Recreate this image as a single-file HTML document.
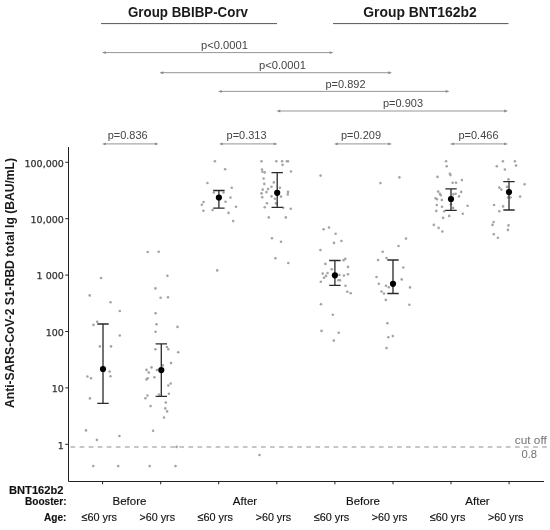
<!DOCTYPE html>
<html><head><meta charset="utf-8"><title>Figure</title>
<style>html,body{margin:0;padding:0;background:#fff}svg{display:block}</style></head>
<body>
<svg width="550" height="530" viewBox="0 0 550 530" font-family="'Liberation Sans', sans-serif">
<rect width="550" height="530" fill="#fff"/>
<text x="188" y="16.5" font-size="14.5" font-weight="bold" fill="#1a1a1a" text-anchor="middle" textLength="120" lengthAdjust="spacingAndGlyphs">Group BBIBP-Corv</text>
<text x="420" y="16.5" font-size="14.5" font-weight="bold" fill="#1a1a1a" text-anchor="middle" textLength="113.5" lengthAdjust="spacingAndGlyphs">Group BNT162b2</text>
<line x1="101" y1="23.6" x2="277" y2="23.6" stroke="#555" stroke-width="1"/>
<line x1="333" y1="23.6" x2="508.5" y2="23.6" stroke="#555" stroke-width="1"/>
<line x1="104" y1="52.6" x2="331.5" y2="52.6" stroke="#8a8a8a" stroke-width="0.9"/>
<path d="M102 52.6 l3.8 -1.45 v2.9 z M333.5 52.6 l-3.8 -1.45 v2.9 z" fill="#8a8a8a"/>
<text x="224.5" y="49.0" font-size="11" fill="#444" text-anchor="middle" textLength="47" lengthAdjust="spacingAndGlyphs">p&lt;0.0001</text>
<line x1="161.5" y1="72.7" x2="390" y2="72.7" stroke="#8a8a8a" stroke-width="0.9"/>
<path d="M159.5 72.7 l3.8 -1.45 v2.9 z M392 72.7 l-3.8 -1.45 v2.9 z" fill="#8a8a8a"/>
<text x="282.5" y="69.10000000000001" font-size="11" fill="#444" text-anchor="middle" textLength="47" lengthAdjust="spacingAndGlyphs">p&lt;0.0001</text>
<line x1="220" y1="91.4" x2="447.5" y2="91.4" stroke="#8a8a8a" stroke-width="0.9"/>
<path d="M218 91.4 l3.8 -1.45 v2.9 z M449.5 91.4 l-3.8 -1.45 v2.9 z" fill="#8a8a8a"/>
<text x="345.5" y="87.80000000000001" font-size="11" fill="#444" text-anchor="middle" textLength="40" lengthAdjust="spacingAndGlyphs">p=0.892</text>
<line x1="278.5" y1="111" x2="506" y2="111" stroke="#8a8a8a" stroke-width="0.9"/>
<path d="M276.5 111 l3.8 -1.45 v2.9 z M508 111 l-3.8 -1.45 v2.9 z" fill="#8a8a8a"/>
<text x="403" y="107.4" font-size="11" fill="#444" text-anchor="middle" textLength="40" lengthAdjust="spacingAndGlyphs">p=0.903</text>
<line x1="104" y1="143.9" x2="156.7" y2="143.9" stroke="#8a8a8a" stroke-width="0.9"/>
<path d="M102 143.9 l3.8 -1.45 v2.9 z M158.7 143.9 l-3.8 -1.45 v2.9 z" fill="#8a8a8a"/>
<text x="127.7" y="138.6" font-size="11" fill="#444" text-anchor="middle" textLength="40" lengthAdjust="spacingAndGlyphs">p=0.836</text>
<line x1="221" y1="143.9" x2="275.5" y2="143.9" stroke="#8a8a8a" stroke-width="0.9"/>
<path d="M219 143.9 l3.8 -1.45 v2.9 z M277.5 143.9 l-3.8 -1.45 v2.9 z" fill="#8a8a8a"/>
<text x="246.6" y="138.6" font-size="11" fill="#444" text-anchor="middle" textLength="40" lengthAdjust="spacingAndGlyphs">p=0.313</text>
<line x1="336" y1="143.9" x2="390" y2="143.9" stroke="#8a8a8a" stroke-width="0.9"/>
<path d="M334 143.9 l3.8 -1.45 v2.9 z M392 143.9 l-3.8 -1.45 v2.9 z" fill="#8a8a8a"/>
<text x="361" y="138.6" font-size="11" fill="#444" text-anchor="middle" textLength="40" lengthAdjust="spacingAndGlyphs">p=0.209</text>
<line x1="452" y1="143.9" x2="506" y2="143.9" stroke="#8a8a8a" stroke-width="0.9"/>
<path d="M450 143.9 l3.8 -1.45 v2.9 z M508 143.9 l-3.8 -1.45 v2.9 z" fill="#8a8a8a"/>
<text x="478.5" y="138.6" font-size="11" fill="#444" text-anchor="middle" textLength="40" lengthAdjust="spacingAndGlyphs">p=0.466</text>
<path d="M68.5 147 V481.5 H544" fill="none" stroke="#222" stroke-width="1"/>
<line x1="65.3" y1="162.3" x2="68" y2="162.3" stroke="#222" stroke-width="1"/>
<text x="63.8" y="166.5" stroke="#333" stroke-width="0.25" font-size="9.5" font-family="'DejaVu Sans', sans-serif" fill="#333" text-anchor="end">100,000</text>
<line x1="65.3" y1="218.7" x2="68" y2="218.7" stroke="#222" stroke-width="1"/>
<text x="63.8" y="222.89999999999998" stroke="#333" stroke-width="0.25" font-size="9.5" font-family="'DejaVu Sans', sans-serif" fill="#333" text-anchor="end">10,000</text>
<line x1="65.3" y1="275.1" x2="68" y2="275.1" stroke="#222" stroke-width="1"/>
<text x="63.8" y="279.3" stroke="#333" stroke-width="0.25" font-size="9.5" font-family="'DejaVu Sans', sans-serif" fill="#333" text-anchor="end">1 000</text>
<line x1="65.3" y1="331.5" x2="68" y2="331.5" stroke="#222" stroke-width="1"/>
<text x="63.8" y="335.7" stroke="#333" stroke-width="0.25" font-size="9.5" font-family="'DejaVu Sans', sans-serif" fill="#333" text-anchor="end">100</text>
<line x1="65.3" y1="387.9" x2="68" y2="387.9" stroke="#222" stroke-width="1"/>
<text x="63.8" y="392.09999999999997" stroke="#333" stroke-width="0.25" font-size="9.5" font-family="'DejaVu Sans', sans-serif" fill="#333" text-anchor="end">10</text>
<line x1="65.3" y1="444.3" x2="68" y2="444.3" stroke="#222" stroke-width="1"/>
<text x="63.8" y="448.5" stroke="#333" stroke-width="0.25" font-size="9.5" font-family="'DejaVu Sans', sans-serif" fill="#333" text-anchor="end">1</text>
<line x1="102.6" y1="481.5" x2="102.6" y2="484.3" stroke="#222" stroke-width="1"/>
<line x1="160.7" y1="481.5" x2="160.7" y2="484.3" stroke="#222" stroke-width="1"/>
<line x1="218.7" y1="481.5" x2="218.7" y2="484.3" stroke="#222" stroke-width="1"/>
<line x1="276.8" y1="481.5" x2="276.8" y2="484.3" stroke="#222" stroke-width="1"/>
<line x1="334.9" y1="481.5" x2="334.9" y2="484.3" stroke="#222" stroke-width="1"/>
<line x1="393.0" y1="481.5" x2="393.0" y2="484.3" stroke="#222" stroke-width="1"/>
<line x1="451.0" y1="481.5" x2="451.0" y2="484.3" stroke="#222" stroke-width="1"/>
<line x1="509.1" y1="481.5" x2="509.1" y2="484.3" stroke="#222" stroke-width="1"/>
<line x1="70.5" y1="447" x2="546.9" y2="447" stroke="#8e8e8e" stroke-width="1.15" stroke-dasharray="4.7 4.37"/>
<text x="530.8" y="444" font-size="11.5" fill="#727272" text-anchor="middle" textLength="32" lengthAdjust="spacingAndGlyphs">cut off</text>
<text x="529.2" y="458" font-size="11.2" fill="#727272" text-anchor="middle">0.8</text>
<text transform="translate(14.1 283) rotate(-90)" font-size="12" font-weight="bold" fill="#1a1a1a" text-anchor="middle" textLength="250" lengthAdjust="spacingAndGlyphs">Anti-SARS-CoV-2 S1-RBD total Ig (BAU/mL)</text>
<g fill="#a4a4a4">
<circle cx="101" cy="278" r="1.3"/>
<circle cx="89.7" cy="295.4" r="1.3"/>
<circle cx="110.5" cy="302.2" r="1.3"/>
<circle cx="119.8" cy="311" r="1.3"/>
<circle cx="97.2" cy="321.7" r="1.3"/>
<circle cx="93.5" cy="324.9" r="1.3"/>
<circle cx="119.8" cy="335.5" r="1.3"/>
<circle cx="99.9" cy="346.4" r="1.3"/>
<circle cx="111" cy="346.4" r="1.3"/>
<circle cx="109.6" cy="371.5" r="1.3"/>
<circle cx="110.5" cy="376.3" r="1.3"/>
<circle cx="87.4" cy="376.5" r="1.3"/>
<circle cx="91" cy="378.3" r="1.3"/>
<circle cx="89.9" cy="398.4" r="1.3"/>
<circle cx="86" cy="430.4" r="1.3"/>
<circle cx="119.4" cy="436" r="1.3"/>
<circle cx="96.9" cy="439.9" r="1.3"/>
<circle cx="93.3" cy="466.1" r="1.3"/>
<circle cx="118.2" cy="466.1" r="1.3"/>
<circle cx="147.7" cy="252" r="1.3"/>
<circle cx="158.7" cy="251.8" r="1.3"/>
<circle cx="167.4" cy="275.8" r="1.3"/>
<circle cx="155.4" cy="288.4" r="1.3"/>
<circle cx="160.6" cy="297.7" r="1.3"/>
<circle cx="168" cy="297.3" r="1.3"/>
<circle cx="155.6" cy="313.3" r="1.3"/>
<circle cx="156.5" cy="324.2" r="1.3"/>
<circle cx="177.5" cy="326.9" r="1.3"/>
<circle cx="155.6" cy="331.7" r="1.3"/>
<circle cx="155.4" cy="349.3" r="1.3"/>
<circle cx="166.9" cy="347" r="1.3"/>
<circle cx="168.3" cy="349.3" r="1.3"/>
<circle cx="178.2" cy="352.3" r="1.3"/>
<circle cx="171" cy="363.1" r="1.3"/>
<circle cx="162.8" cy="365.4" r="1.3"/>
<circle cx="151.5" cy="367.4" r="1.3"/>
<circle cx="146.5" cy="369.9" r="1.3"/>
<circle cx="148.8" cy="372.6" r="1.3"/>
<circle cx="156.9" cy="370" r="1.3"/>
<circle cx="154.4" cy="377.2" r="1.3"/>
<circle cx="147.7" cy="378.3" r="1.3"/>
<circle cx="146.5" cy="379.4" r="1.3"/>
<circle cx="170.7" cy="383.5" r="1.3"/>
<circle cx="168.3" cy="385.5" r="1.3"/>
<circle cx="168.9" cy="393.7" r="1.3"/>
<circle cx="159" cy="394.6" r="1.3"/>
<circle cx="147.4" cy="395.5" r="1.3"/>
<circle cx="145.4" cy="398.2" r="1.3"/>
<circle cx="165.8" cy="402.5" r="1.3"/>
<circle cx="150.6" cy="406.1" r="1.3"/>
<circle cx="165.3" cy="408.4" r="1.3"/>
<circle cx="167.1" cy="411.4" r="1.3"/>
<circle cx="164" cy="417.5" r="1.3"/>
<circle cx="153.1" cy="430.8" r="1.3"/>
<circle cx="176.6" cy="446.9" r="1.3"/>
<circle cx="149.7" cy="466.1" r="1.3"/>
<circle cx="175.5" cy="466.1" r="1.3"/>
<circle cx="214.9" cy="161.3" r="1.3"/>
<circle cx="225.1" cy="169.2" r="1.3"/>
<circle cx="207.4" cy="183" r="1.3"/>
<circle cx="231.7" cy="187.8" r="1.3"/>
<circle cx="213.8" cy="192.5" r="1.3"/>
<circle cx="223.5" cy="192.5" r="1.3"/>
<circle cx="230.5" cy="197.5" r="1.3"/>
<circle cx="225.5" cy="201.8" r="1.3"/>
<circle cx="203.6" cy="202" r="1.3"/>
<circle cx="201.8" cy="204.8" r="1.3"/>
<circle cx="236" cy="206.8" r="1.3"/>
<circle cx="203.4" cy="210.7" r="1.3"/>
<circle cx="212.6" cy="210" r="1.3"/>
<circle cx="228.5" cy="212.9" r="1.3"/>
<circle cx="233.2" cy="221.1" r="1.3"/>
<circle cx="217.2" cy="270.4" r="1.3"/>
<circle cx="259.5" cy="455" r="1.3"/>
<circle cx="261.5" cy="161.3" r="1.3"/>
<circle cx="276.3" cy="161.3" r="1.3"/>
<circle cx="282.1" cy="161.3" r="1.3"/>
<circle cx="286.9" cy="161.3" r="1.3"/>
<circle cx="288" cy="161.3" r="1.3"/>
<circle cx="282.6" cy="164.9" r="1.3"/>
<circle cx="262" cy="169.5" r="1.3"/>
<circle cx="262.4" cy="171.7" r="1.3"/>
<circle cx="264.7" cy="172.4" r="1.3"/>
<circle cx="291" cy="171.5" r="1.3"/>
<circle cx="263.6" cy="178.5" r="1.3"/>
<circle cx="273.8" cy="182.4" r="1.3"/>
<circle cx="264.3" cy="183.9" r="1.3"/>
<circle cx="271.5" cy="186.7" r="1.3"/>
<circle cx="279.9" cy="187.8" r="1.3"/>
<circle cx="268.1" cy="189.1" r="1.3"/>
<circle cx="262.7" cy="189.6" r="1.3"/>
<circle cx="266.5" cy="192.1" r="1.3"/>
<circle cx="288" cy="191.9" r="1.3"/>
<circle cx="261.5" cy="193.4" r="1.3"/>
<circle cx="287.8" cy="194.4" r="1.3"/>
<circle cx="271.5" cy="196.4" r="1.3"/>
<circle cx="262.2" cy="197.3" r="1.3"/>
<circle cx="281" cy="196.6" r="1.3"/>
<circle cx="274.9" cy="198.7" r="1.3"/>
<circle cx="267" cy="203.2" r="1.3"/>
<circle cx="276" cy="203.4" r="1.3"/>
<circle cx="264.7" cy="207.3" r="1.3"/>
<circle cx="283.3" cy="207.7" r="1.3"/>
<circle cx="290.7" cy="208.8" r="1.3"/>
<circle cx="268.8" cy="217.4" r="1.3"/>
<circle cx="285.8" cy="217.4" r="1.3"/>
<circle cx="272" cy="238.3" r="1.3"/>
<circle cx="281" cy="241.7" r="1.3"/>
<circle cx="275.4" cy="258.2" r="1.3"/>
<circle cx="288.3" cy="263" r="1.3"/>
<circle cx="320.6" cy="175.6" r="1.3"/>
<circle cx="323.6" cy="229.3" r="1.3"/>
<circle cx="329" cy="227.5" r="1.3"/>
<circle cx="335.6" cy="233.8" r="1.3"/>
<circle cx="341.4" cy="241" r="1.3"/>
<circle cx="334" cy="242.9" r="1.3"/>
<circle cx="320.4" cy="250.1" r="1.3"/>
<circle cx="345.3" cy="258.9" r="1.3"/>
<circle cx="343.5" cy="260.3" r="1.3"/>
<circle cx="325.4" cy="263.9" r="1.3"/>
<circle cx="348" cy="266.9" r="1.3"/>
<circle cx="331.7" cy="269.3" r="1.3"/>
<circle cx="322.7" cy="273.6" r="1.3"/>
<circle cx="327.6" cy="273" r="1.3"/>
<circle cx="348" cy="274.3" r="1.3"/>
<circle cx="343.9" cy="275.5" r="1.3"/>
<circle cx="326" cy="275.9" r="1.3"/>
<circle cx="324" cy="277.7" r="1.3"/>
<circle cx="339.4" cy="275" r="1.3"/>
<circle cx="320.8" cy="281.8" r="1.3"/>
<circle cx="338.5" cy="280.2" r="1.3"/>
<circle cx="340" cy="280.2" r="1.3"/>
<circle cx="345.5" cy="285.8" r="1.3"/>
<circle cx="347.3" cy="291.7" r="1.3"/>
<circle cx="350.7" cy="293.3" r="1.3"/>
<circle cx="321" cy="304.2" r="1.3"/>
<circle cx="332.8" cy="314.8" r="1.3"/>
<circle cx="321.5" cy="330.9" r="1.3"/>
<circle cx="338.7" cy="332.7" r="1.3"/>
<circle cx="333.8" cy="340.6" r="1.3"/>
<circle cx="399.4" cy="177.4" r="1.3"/>
<circle cx="380.4" cy="183.1" r="1.3"/>
<circle cx="406" cy="238.6" r="1.3"/>
<circle cx="398.5" cy="246" r="1.3"/>
<circle cx="382.7" cy="251.7" r="1.3"/>
<circle cx="378.1" cy="260.1" r="1.3"/>
<circle cx="386.5" cy="258" r="1.3"/>
<circle cx="403.3" cy="267.5" r="1.3"/>
<circle cx="376.5" cy="277" r="1.3"/>
<circle cx="401.7" cy="279.4" r="1.3"/>
<circle cx="378.8" cy="283.8" r="1.3"/>
<circle cx="386" cy="285.8" r="1.3"/>
<circle cx="388.8" cy="287.2" r="1.3"/>
<circle cx="410" cy="287.4" r="1.3"/>
<circle cx="381.5" cy="291.5" r="1.3"/>
<circle cx="384" cy="293.5" r="1.3"/>
<circle cx="385.8" cy="299.9" r="1.3"/>
<circle cx="409.4" cy="304.8" r="1.3"/>
<circle cx="387.4" cy="323.2" r="1.3"/>
<circle cx="388.3" cy="337.2" r="1.3"/>
<circle cx="392.8" cy="336.1" r="1.3"/>
<circle cx="386.5" cy="348.1" r="1.3"/>
<circle cx="446.1" cy="161.3" r="1.3"/>
<circle cx="446.7" cy="166.3" r="1.3"/>
<circle cx="449.9" cy="173.8" r="1.3"/>
<circle cx="450.4" cy="175.1" r="1.3"/>
<circle cx="437.5" cy="176.9" r="1.3"/>
<circle cx="461.9" cy="180.1" r="1.3"/>
<circle cx="452.6" cy="182.8" r="1.3"/>
<circle cx="456" cy="182.8" r="1.3"/>
<circle cx="438.1" cy="191.6" r="1.3"/>
<circle cx="461.2" cy="191.9" r="1.3"/>
<circle cx="439.9" cy="193.7" r="1.3"/>
<circle cx="440.8" cy="195.3" r="1.3"/>
<circle cx="455.6" cy="193.7" r="1.3"/>
<circle cx="453.3" cy="194.4" r="1.3"/>
<circle cx="459" cy="196.4" r="1.3"/>
<circle cx="435.6" cy="198.2" r="1.3"/>
<circle cx="437" cy="199.3" r="1.3"/>
<circle cx="441.8" cy="200" r="1.3"/>
<circle cx="436.8" cy="205" r="1.3"/>
<circle cx="442" cy="206.8" r="1.3"/>
<circle cx="467.6" cy="205.7" r="1.3"/>
<circle cx="451" cy="204.3" r="1.3"/>
<circle cx="453.1" cy="207.9" r="1.3"/>
<circle cx="436.3" cy="210.9" r="1.3"/>
<circle cx="444.2" cy="211.3" r="1.3"/>
<circle cx="462.8" cy="213.8" r="1.3"/>
<circle cx="449.2" cy="215.9" r="1.3"/>
<circle cx="443.1" cy="217.9" r="1.3"/>
<circle cx="433.8" cy="224.9" r="1.3"/>
<circle cx="438.6" cy="227.9" r="1.3"/>
<circle cx="442.4" cy="231.5" r="1.3"/>
<circle cx="502.9" cy="161.3" r="1.3"/>
<circle cx="514.9" cy="161.3" r="1.3"/>
<circle cx="516" cy="165.6" r="1.3"/>
<circle cx="496.8" cy="166.3" r="1.3"/>
<circle cx="504.9" cy="169.5" r="1.3"/>
<circle cx="508.5" cy="179.4" r="1.3"/>
<circle cx="524.6" cy="184.2" r="1.3"/>
<circle cx="499.3" cy="187.6" r="1.3"/>
<circle cx="501.3" cy="189.6" r="1.3"/>
<circle cx="507" cy="186.9" r="1.3"/>
<circle cx="520.1" cy="196.6" r="1.3"/>
<circle cx="508.1" cy="197.5" r="1.3"/>
<circle cx="510.6" cy="197.5" r="1.3"/>
<circle cx="494.1" cy="205" r="1.3"/>
<circle cx="503.1" cy="206.4" r="1.3"/>
<circle cx="499.3" cy="211.3" r="1.3"/>
<circle cx="493.6" cy="222" r="1.3"/>
<circle cx="492.5" cy="224.9" r="1.3"/>
<circle cx="508.5" cy="225.4" r="1.3"/>
<circle cx="507.9" cy="229.9" r="1.3"/>
<circle cx="493.8" cy="234.2" r="1.3"/>
<circle cx="497.9" cy="237.8" r="1.3"/>
</g>
<path d="M103 324 V403.4 M97.3 324 h11.4 M97.3 403.4 h11.4" stroke="#2a2a2a" stroke-width="1.3" fill="none"/>
<circle cx="103" cy="369" r="3.1" fill="#000"/>
<path d="M161.3 343.9 V396.4 M155.60000000000002 343.9 h11.4 M155.60000000000002 396.4 h11.4" stroke="#2a2a2a" stroke-width="1.3" fill="none"/>
<circle cx="161.3" cy="370.1" r="3.1" fill="#000"/>
<path d="M218.9 190.5 V208.2 M213.20000000000002 190.5 h11.4 M213.20000000000002 208.2 h11.4" stroke="#2a2a2a" stroke-width="1.3" fill="none"/>
<circle cx="218.9" cy="197.5" r="3.1" fill="#000"/>
<path d="M277.2 172.6 V207.3 M271.5 172.6 h11.4 M271.5 207.3 h11.4" stroke="#2a2a2a" stroke-width="1.3" fill="none"/>
<circle cx="277.2" cy="192.8" r="3.1" fill="#000"/>
<path d="M334.9 260.5 V285.4 M329.2 260.5 h11.4 M329.2 285.4 h11.4" stroke="#2a2a2a" stroke-width="1.3" fill="none"/>
<circle cx="334.9" cy="275.3" r="3.1" fill="#000"/>
<path d="M393 260 V293.5 M387.3 260 h11.4 M387.3 293.5 h11.4" stroke="#2a2a2a" stroke-width="1.3" fill="none"/>
<circle cx="393" cy="283.8" r="3.1" fill="#000"/>
<path d="M451 188.9 V210.4 M445.3 188.9 h11.4 M445.3 210.4 h11.4" stroke="#2a2a2a" stroke-width="1.3" fill="none"/>
<circle cx="451" cy="199.1" r="3.1" fill="#000"/>
<path d="M509 181.7 V210 M503.3 181.7 h11.4 M503.3 210 h11.4" stroke="#2a2a2a" stroke-width="1.3" fill="none"/>
<circle cx="509" cy="192.1" r="3.1" fill="#000"/>
<g font-size="11.5" fill="#111" stroke="#111" stroke-width="0.15">
<text x="9" y="494" font-weight="bold" textLength="54.5" lengthAdjust="spacingAndGlyphs">BNT162b2</text>
<text x="66.5" y="504.5" font-weight="bold" text-anchor="end" textLength="41.5" lengthAdjust="spacingAndGlyphs">Booster:</text>
<text x="66.5" y="520.5" font-weight="bold" text-anchor="end" textLength="22.5" lengthAdjust="spacingAndGlyphs">Age:</text>
<text x="129.5" y="504.5" text-anchor="middle">Before</text>
<text x="245" y="504.5" text-anchor="middle">After</text>
<text x="363" y="504.5" text-anchor="middle">Before</text>
<text x="477.5" y="504.5" text-anchor="middle">After</text>
<text x="99.2" y="520.5" text-anchor="middle" textLength="35.5" lengthAdjust="spacingAndGlyphs">≤60 yrs</text>
<text x="157.3" y="520.5" text-anchor="middle" textLength="35.5" lengthAdjust="spacingAndGlyphs">&gt;60 yrs</text>
<text x="215.3" y="520.5" text-anchor="middle" textLength="35.5" lengthAdjust="spacingAndGlyphs">≤60 yrs</text>
<text x="273.4" y="520.5" text-anchor="middle" textLength="35.5" lengthAdjust="spacingAndGlyphs">&gt;60 yrs</text>
<text x="331.5" y="520.5" text-anchor="middle" textLength="35.5" lengthAdjust="spacingAndGlyphs">≤60 yrs</text>
<text x="389.6" y="520.5" text-anchor="middle" textLength="35.5" lengthAdjust="spacingAndGlyphs">&gt;60 yrs</text>
<text x="447.6" y="520.5" text-anchor="middle" textLength="35.5" lengthAdjust="spacingAndGlyphs">≤60 yrs</text>
<text x="505.7" y="520.5" text-anchor="middle" textLength="35.5" lengthAdjust="spacingAndGlyphs">&gt;60 yrs</text>
</g>
</svg>
</body></html>
